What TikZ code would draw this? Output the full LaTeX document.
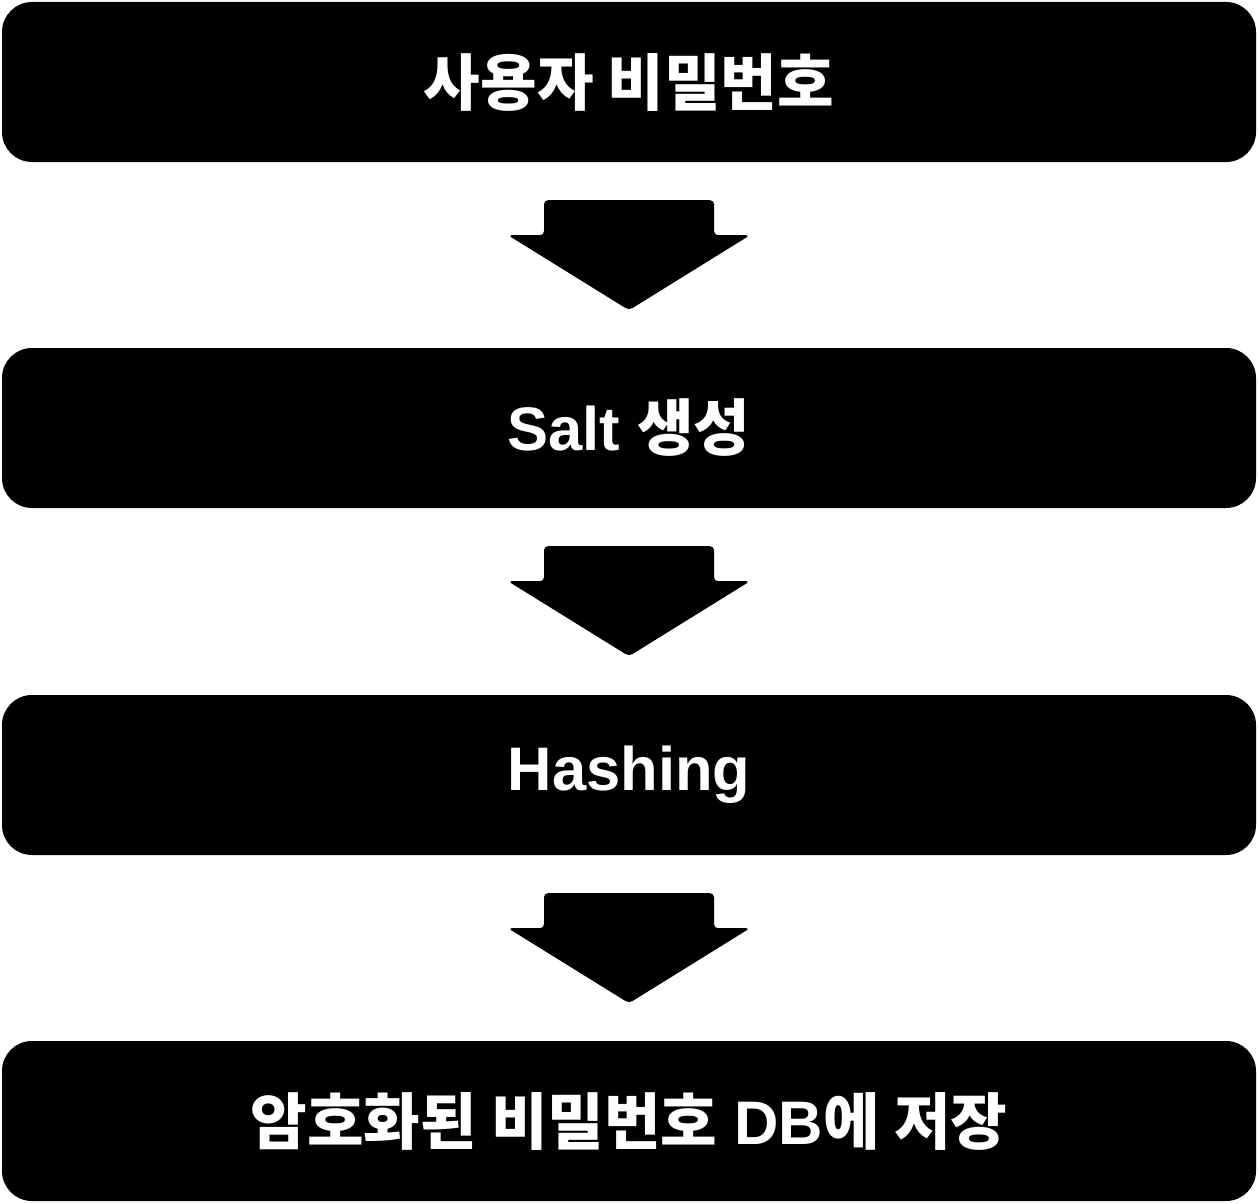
\documentclass[tikz,border=0pt]{standalone}
\usepackage{fontspec}
\setmainfont{Liberation Sans}
\newfontfamily\cjk{Noto Sans CJK KR}
\tikzset{
  box/.style={fill=black, rounded corners=30pt, minimum width=1254pt, minimum height=160pt,
    text=white, font=\bfseries\fontsize{61.5}{64}\selectfont, inner sep=0pt},
  blockarrow/.style={fill=black, rounded corners=4pt}
}
\begin{document}
\begin{tikzpicture}[x=1pt,y=-1pt]
\useasboundingbox (0,0) rectangle (1258,1204);
\node[box] (b1) at (629,82) {{\cjk 사용자 비밀번호}};
\node[box] (b2) at (629,428) {Salt {\cjk 생성}};
\node[box] (b3) at (629,775) {Hashing};
\node[box] (b4) at (629,1121) {{\cjk 암호화된 비밀번호} DB{\cjk 에 저장}};
\foreach \a in {b1,b2,b3}{
  \fill[blockarrow] ([shift={(-85,38)}]\a.south) -- ([shift={(85,38)}]\a.south)
    -- ([shift={(85,73)}]\a.south) -- ([shift={(121,73)}]\a.south)
    -- ([shift={(0,148)}]\a.south) -- ([shift={(-121,73)}]\a.south)
    -- ([shift={(-85,73)}]\a.south) -- cycle;
}
\end{tikzpicture}
\end{document}
